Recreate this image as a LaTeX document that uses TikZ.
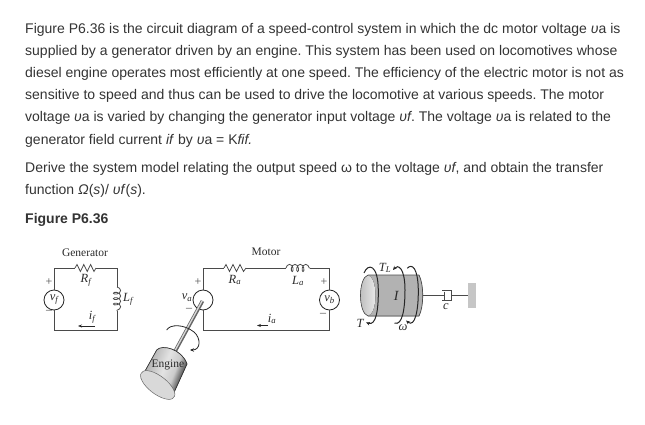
\documentclass[tikz,border=0pt]{standalone}
\usepackage{fontspec}
\setmainfont{Liberation Sans}
\newfontfamily\figserif{Liberation Serif}
\usetikzlibrary{decorations.pathmorphing,arrows.meta}
\definecolor{txt}{HTML}{333333}
\definecolor{wire}{HTML}{4A4A4A}
\definecolor{figtxt}{HTML}{2A2A2A}
\frenchspacing
\newcommand{\labsub}[2]{\textit{#1\textsubscript{#2}}}
\pgfdeclarehorizontalshading{engbody}{100bp}{color(0bp)=(gray!60);color(32bp)=(gray!60);color(50bp)=(gray!22);color(62bp)=(gray!40);color(72bp)=(black!72);color(100bp)=(black!72)}
\tikzset{
  para/.style={anchor=base west,inner sep=0pt,text=txt,font=\fontsize{14}{16}\selectfont},
  head/.style={para,font=\fontsize{14}{16}\selectfont\bfseries},
  lab/.style={inner sep=0pt,text=figtxt,font=\figserif\fontsize{12.5}{14}\selectfont},
  sign/.style={inner sep=0pt,text=black!70,font=\figserif\fontsize{12}{12}\selectfont},
  word/.style={inner sep=0pt,text=figtxt,font=\figserif\fontsize{11.5}{12}\selectfont},
  wireline/.style={draw=wire,line width=0.8pt},
  src/.style={circle,draw=black!85,line width=0.8pt,minimum size=20pt,inner sep=0pt,fill=white,text=figtxt,font=\figserif\fontsize{12.5}{14}\selectfont},
  coilup/.style={wireline,decorate,decoration={coil,aspect=0.6,segment length=5.4pt,amplitude=3.6pt}},
  turn/.style={draw=black!85,line width=1pt},
  tipend/.style={turn,-{Stealth[length=4pt,width=3.5pt]}},
  tipstart/.style={turn,{Stealth[length=4pt,width=3.5pt]}-},
  curarrow/.style={draw=black!85,line width=0.8pt,-{Stealth[length=4pt,width=3pt]}},
}
\begin{document}
\begin{tikzpicture}[x=1pt,y=-1pt]
\useasboundingbox (0,0) rectangle (645,425);
% text
\node[para] (l1) at (25,34) {Figure P6.36 is the circuit diagram of a speed-control system in which the dc motor voltage \textit{υ}a is};
\node[para] (l2) at (25,56) {supplied by a generator driven by an engine. This system has been used on locomotives whose};
\node[para] (l3) at (25,78) {diesel engine operates most efficiently at one speed. The efficiency of the electric motor is not as};
\node[para] (l4) at (25,100) {sensitive to speed and thus can be used to drive the locomotive at various speeds. The motor};
\node[para] (l5) at (25,122) {voltage \textit{υ}a is varied by changing the generator input voltage \textit{υf}. The voltage \textit{υ}a is related to the};
\node[para] (l6) at (25,144) {generator field current \textit{if} by \textit{υ}a = K\textit{fif.}};
\node[para] (l7) at (25,172.5) {Derive the system model relating the output speed ω to the voltage \textit{υf}, and obtain the transfer};
\node[para] (l8) at (25,194.5) {function \textit{Ω}(\textit{s})/ \textit{υf}(\textit{s}).};
\node[head] (l9) at (25,223) {Figure P6.36};

% generator circuit
\node[src] (vf) at (54,300) {\labsub{v}{f}};
\coordinate (gtl) at (54,268);
\coordinate (gtr) at (117,268);
\coordinate (gbr) at (117,330);
\coordinate (gbl) at (54,330);
\coordinate (rf1) at (75,268);
\coordinate (rf2) at (96,268);
\coordinate (lf1) at (117,287);
\coordinate (lf2) at (117,311);
\draw[wireline] (vf) -- (gtl) -- (rf1);
\draw[wireline] (rf1) -- ++(2,-3.5) -- ++(3.4,7) -- ++(3.4,-7) -- ++(3.4,7) -- ++(3.4,-7) -- ++(3.4,7) -- (rf2);
\draw[wireline] (rf2) -- (gtr) -- (lf1);
\draw[coilup] (lf1) -- (lf2);
\draw[wireline] (lf2) -- (gbr) -- (gbl) -- (vf);
\node[word] (gen) at (85,253) {Generator};
\node[lab] (rf) at (86,280) {\labsub{R}{f}};
\node[lab] (lf) at (128,299) {\labsub{L}{f}};
\node[sign] (vfp) at (49,282) {+};
\node[sign] (vfm) at (49,312) {–};
\node[lab] (if) at (92,317) {\labsub{i}{f}};
\coordinate (ifa) at (95,326);
\coordinate (ifb) at (78,326);
\draw[curarrow] (ifa) -- (ifb);

% motor circuit
\node[src] (va) at (203,300) {};
\node[src] (vb) at (329.5,300) {\labsub{v}{b}};
\coordinate (mtl) at (203,268);
\coordinate (mtr) at (329.5,268);
\coordinate (mbr) at (329.5,330);
\coordinate (mbl) at (203,330);
\coordinate (ra1) at (224,268);
\coordinate (ra2) at (246,268);
\coordinate (la1) at (286,268);
\coordinate (la2) at (310,268);
\draw[wireline] (va) -- (mtl) -- (ra1);
\draw[wireline] (ra1) -- ++(2,-3.5) -- ++(3.5,7) -- ++(3.5,-7) -- ++(3.5,7) -- ++(3.5,-7) -- ++(3.5,7) -- (ra2);
\draw[wireline] (ra2) -- (la1);
\draw[coilup] (la1) -- (la2);
\draw[wireline] (la2) -- (mtr) -- (vb) -- (mbr) -- (mbl) -- (va);
\node[word] (motor) at (266,252) {Motor};
\node[lab] (ra) at (235,280) {\labsub{R}{a}};
\node[lab] (la) at (298,281) {\labsub{L}{a}};
\node[sign] (vap) at (198,282) {+};
\node[sign] (vam) at (189,310) {–};
\node[sign] (vbp) at (324,282) {+};
\node[sign] (vbm) at (323,315) {–};
\node[lab] (va2) at (187,298) {\labsub{v}{a}};
\node[lab] (ia) at (272,319) {\labsub{i}{a}};
\coordinate (iaa) at (268,325.5);
\coordinate (iab) at (257,325.5);
\draw[curarrow] (iaa) -- (iab);

% engine
\draw[black!60,line width=3.6pt] (175.5,350.5) -- (202.5,301);
\draw[gray!30,line width=1.3pt] (175.2,350.2) -- (202.2,300.7);
\fill[shading=engbody,shading angle=-22]
  (141,378.3) -- (156.7,350) .. controls (162,344) and (182,349) .. (187,364) -- (174.4,391.7) -- cycle;
\draw[black!80,line width=0.7pt] (141,378.3) -- (156.7,350) .. controls (162,344) and (182,349) .. (187,364) -- (174.4,391.7);
\draw[black!60,line width=0.5pt,fill=gray!30]
  (174.4,391.7) .. controls (176.6,398.7) and (170.9,401.4) .. (161.7,397.7)
  .. controls (152.5,394) and (143.2,385.3) .. (141,378.3)
  .. controls (138.8,371.3) and (144.5,368.6) .. (153.7,372.3)
  .. controls (162.9,376) and (172.2,384.7) .. (174.4,391.7) -- cycle;
\node[word] (eng) at (168,364.5) {Engine};
\draw[tipend,line width=0.8pt] (166.7,330) .. controls (170,324) and (184,324) .. (194,332) .. controls (201,338) and (201,350) .. (190,350);

% rotor
\fill[shading=axis,top color=gray!60,middle color=gray!30,bottom color=gray!60] (368,275) -- (419,275) .. controls (424,285) and (424,306) .. (419,316) -- (368,316) -- cycle;
\fill[left color=gray!55,right color=gray!12] (368,275) .. controls (358,278) and (358,313) .. (368,316) .. controls (378,313) and (378,278) .. (368,275) -- cycle;
\draw[black!70,line width=0.6pt] (419,275) -- (368,275) .. controls (358,278) and (358,313) .. (368,316) -- (419,316);
\draw[black!70,line width=0.7pt] (419,275) .. controls (424,285) and (424,306) .. (419,316);
\draw[tipend] (364,273) .. controls (368,263) and (378,264) .. (378.3,290) .. controls (378.5,310) and (376,326) .. (366,322.5);
\draw[tipstart] (393,270) .. controls (398,264) and (405,268) .. (405,290) .. controls (405,310) and (402,326) .. (394.5,323);
\draw[tipend] (407.3,268.3) .. controls (412,263) and (418,268) .. (418.3,290) .. controls (418.5,310) and (415,328) .. (406,320.5);
\node[lab] (tl) at (385,268) {\labsub{T}{L}};
\node[lab] (t) at (360.5,323.5) {\textit{T}};
\node[lab] (om) at (403,327.5) {\textit{ω}};
\node[lab,font=\figserif\fontsize{14}{14}\selectfont] (ii) at (396.5,296) {\textit{I}};
% shaft, damper, wall
\fill[gray!45] (468.3,283.3) rectangle (475.7,307.7);
\coordinate (sh1) at (423,295);
\coordinate (d1) at (444,295);
\coordinate (d2) at (451,295);
\coordinate (w) at (468.3,295);
\draw[wire,line width=0.6pt] (sh1) -- (d1);
\draw[wire,line width=0.7pt] (442,290.7) -- (451,290.7) -- (451,300.7) -- (442,300.7);
\draw[wire,line width=0.8pt] (444,291.5) -- (444,300);
\draw[wire,line width=0.6pt] (d2) -- (w);
\node[lab] (c) at (446,306.5) {\textit{c}};
\end{tikzpicture}
\end{document}
